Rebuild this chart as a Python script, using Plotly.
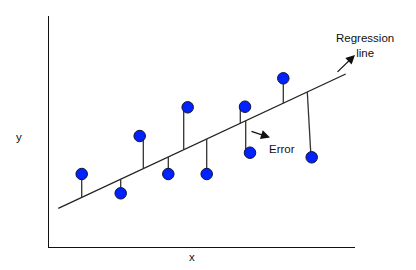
import plotly.graph_objects as go

# Data coordinates: origin at the axes corner, units = pixels of the diagram
reg_x = [9.3, 296.7]
reg_y = [38.7, 173.0]

point_x = [32.7, 71.7, 90.7, 119.3, 138.7, 157.7, 196.0, 201.0, 234.3, 262.7]
point_y = [73.0, 53.7, 111.0, 73.0, 139.7, 73.0, 140.3, 94.3, 168.7, 89.7]
# x where each error stem meets the regression line, and where it meets the point
stem_x_line = [32.7, 71.7, 94.3, 119.3, 134.7, 157.7, 191.3, 196.7, 234.3, 258.3]
stem_x_pt = [32.7, 71.7, 94.3, 119.3, 134.7, 157.7, 191.3, 196.7, 234.3, 262.0]

labels = {"x": "x", "y": "y", "err": "Error", "reg": "Regression<br>line"}


def line_y(x):
    return reg_y[0] + (reg_y[1] - reg_y[0]) * (x - reg_x[0]) / (reg_x[1] - reg_x[0])


sx, sy = [], []
for xl, xp, yp in zip(stem_x_line, stem_x_pt, point_y):
    sx += [xl, xp, None]
    sy += [line_y(xl), yp, None]

fig = go.Figure()
fig.add_trace(go.Scatter(x=reg_x, y=reg_y, mode="lines",
                         line=dict(color="#222222", width=1.3), hoverinfo="skip"))
fig.add_trace(go.Scatter(x=sx, y=sy, mode="lines",
                         line=dict(color="#333333", width=1.3), hoverinfo="skip"))
fig.add_trace(go.Scatter(x=point_x, y=point_y, mode="markers",
                         marker=dict(size=11.5, color="#0022ff",
                                     line=dict(color="#111133", width=1)),
                         hoverinfo="skip"))

FONT = dict(family="Liberation Sans, Arial, sans-serif", size=11.5, color="#111111")

W, H = 306.0, 231.0
def px(x):
    return x / W
def py(y):
    return y / H

# arrows
fig.add_annotation(x=221, y=109.5, ax=201, ay=116, xref="x", yref="y",
                   axref="x", ayref="y", text="", showarrow=True,
                   arrowhead=2, arrowsize=1.4, arrowwidth=1.3, arrowcolor="#111111")
fig.add_annotation(x=306, y=192, ax=287, ay=173.7, xref="x", yref="y",
                   axref="x", ayref="y", text="", showarrow=True,
                   arrowhead=2, arrowsize=1.4, arrowwidth=1.3, arrowcolor="#111111")

# texts (paper coords)
def txt(x, y, t):
    fig.add_annotation(x=px(x), y=py(y), xref="paper", yref="paper", text=t,
                       showarrow=False, font=FONT, xanchor="center", yanchor="middle")

txt(232.7, 98, labels["err"])
txt(316, 201.5, labels["reg"])
txt(-30, 110, labels["y"])
txt(143, -10, labels["x"])

fig.update_layout(
    width=416, height=270,
    margin=dict(l=49, r=61, t=16, b=23),
    paper_bgcolor="white", plot_bgcolor="white",
    showlegend=False,
    xaxis=dict(range=[0, W], showgrid=False, zeroline=False, showticklabels=False,
               ticks="", showline=True, linecolor="#111111", linewidth=1.2, fixedrange=True),
    yaxis=dict(range=[0, H], showgrid=False, zeroline=False, showticklabels=False,
               ticks="", showline=True, linecolor="#111111", linewidth=1.2, fixedrange=True),
)

fig.write_html("out.html")
